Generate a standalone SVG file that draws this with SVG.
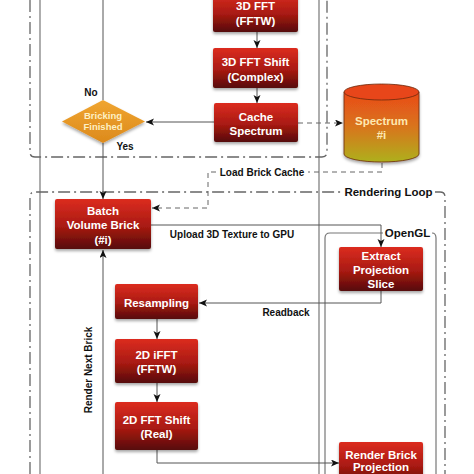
<svg xmlns="http://www.w3.org/2000/svg" width="474" height="474" viewBox="0 0 474 474">
<style>
.box{fill:url(#red);filter:url(#sh)}
.bt{font-family:"Liberation Sans",Arial,sans-serif;font-weight:bold;font-size:11.5px;fill:#fff;text-anchor:middle}
.lbl{font-family:"Liberation Sans",Arial,sans-serif;font-weight:bold;font-size:10px;fill:#111;text-anchor:middle}
.big{font-family:"Liberation Sans",Arial,sans-serif;font-weight:bold;font-size:11.5px;fill:#111;text-anchor:middle}
.c{fill:none;stroke:#555;stroke-width:1}
.d{fill:none;stroke:#666;stroke-width:1;stroke-dasharray:5 4}
.dd{fill:none;stroke:#666;stroke-width:1.3;stroke-dasharray:12 4 2 4}
.g{fill:none;stroke:#777;stroke-width:1.2}
</style>
<defs>
<linearGradient id="red" x1="0" y1="0" x2="0" y2="1">
<stop offset="0" stop-color="#dc2c20"/>
<stop offset="0.55" stop-color="#a81a12"/>
<stop offset="1" stop-color="#560a07"/>
</linearGradient>
<linearGradient id="cyl" x1="0" y1="0" x2="0" y2="1">
<stop offset="0" stop-color="#ea4a18"/>
<stop offset="0.5" stop-color="#d8751c"/>
<stop offset="1" stop-color="#aeb01e"/>
</linearGradient>
<linearGradient id="dia" x1="0" y1="0" x2="0" y2="1">
<stop offset="0" stop-color="#f0a530"/>
<stop offset="1" stop-color="#dc8a1c"/>
</linearGradient>
<filter id="sh" x="-20%" y="-20%" width="140%" height="150%">
<feDropShadow dx="0" dy="2" stdDeviation="1.5" flood-color="#000" flood-opacity="0.35"/>
</filter>
<marker id="ah" markerUnits="userSpaceOnUse" markerWidth="9" markerHeight="8" refX="8" refY="3.5" orient="auto">
<path d="M0,0 L8,3.5 L0,7 L2,3.5 z" fill="#111"/>
</marker>
</defs>
<rect width="474" height="474" fill="#fff"/>

<g id="frames">
<line x1="40" y1="0" x2="40" y2="474" class="g"/>
<line x1="319" y1="0" x2="319" y2="474" class="g"/>
<path class="dd" d="M30,0 L30,152 Q30,157 35,157 L322,157 Q327,157 327,152 L327,0"/>
<path class="dd" d="M30,474 L30,197 Q30,192 35,192 L342,192 M435,192 L440,192 Q445,192 445,197 L445,474"/>
<text class="big" x="388.5" y="196">Rendering Loop</text>
<path class="g" d="M325,474 L325,238 Q325,233 330,233 L383,233 M432,233 Q436,233 436,238 L436,474" stroke="#555"/>
<text class="big" x="407.5" y="237">OpenGL</text>
</g>

<g id="connectors">
<line class="c" x1="257" y1="32" x2="257" y2="48" marker-end="url(#ah)"/>
<line class="c" x1="257" y1="88" x2="257" y2="103" marker-end="url(#ah)"/>
<line class="c" x1="214" y1="122" x2="146" y2="122" marker-end="url(#ah)"/>
<line class="c" x1="103" y1="0" x2="103" y2="100"/>
<line class="c" x1="103" y1="143" x2="103" y2="199" marker-end="url(#ah)"/>
<path class="d" d="M298,123 L343,123" marker-end="url(#ah)"/>
<path class="d" d="M382,163 L382,172 L308,172"/>
<path class="d" d="M216,172 L208,172 L208,208 L152,208" marker-end="url(#ah)"/>
<path class="c" d="M151,225 L381,225 L381,247" marker-end="url(#ah)"/>
<path class="c" d="M381,291 L381,303 L199,303" marker-end="url(#ah)"/>
<line class="c" x1="157" y1="319" x2="157" y2="339" marker-end="url(#ah)"/>
<line class="c" x1="157" y1="383" x2="157" y2="402" marker-end="url(#ah)"/>
<path class="c" d="M157,450 L157,463 L339,463" marker-end="url(#ah)"/>
<line class="c" x1="103" y1="474" x2="103" y2="250" marker-end="url(#ah)"/>
<text class="lbl" x="91" y="96">No</text>
<text class="lbl" x="125" y="150">Yes</text>
<text class="lbl" x="262" y="176">Load Brick Cache</text>
<text class="lbl" x="232" y="238">Upload 3D Texture to GPU</text>
<text class="lbl" x="286" y="316">Readback</text>
<text class="lbl" transform="translate(92,370) rotate(-90)">Render Next Brick</text>
</g>

<g id="fft3d">
<rect class="box" x="213" y="-8" width="85" height="40" rx="2"/>
<text class="bt" x="255.5" y="10">3D FFT</text>
<text class="bt" x="255.5" y="25">(FFTW)</text>
</g>
<g id="fftshift3d">
<rect class="box" x="213" y="48" width="85" height="40" rx="2"/>
<text class="bt" x="255.5" y="66">3D FFT Shift</text>
<text class="bt" x="255.5" y="81">(Complex)</text>
</g>
<g id="cache">
<rect class="box" x="214" y="103" width="84" height="39" rx="2"/>
<text class="bt" x="256" y="121">Cache</text>
<text class="bt" x="256" y="135">Spectrum</text>
</g>
<g id="bricking">
<polygon points="103,100 145,121.5 103,143 62,121.5" fill="url(#dia)" filter="url(#sh)"/>
<text class="bt" x="103" y="119" style="font-size:9.5px;fill:#fdf0c4">Bricking</text>
<text class="bt" x="103" y="130" style="font-size:9.5px;fill:#fdf0c4">Finished</text>
</g>
<g id="spectrum">
<path d="M344,92 L344,154 A37.5,8 0 0 0 419,154 L419,92 Z" fill="url(#cyl)" stroke="#6a2a0c" stroke-width="0.8" filter="url(#sh)"/>
<ellipse cx="381.5" cy="92" rx="37.5" ry="8" fill="#e8461a" stroke="#6a2a0c" stroke-width="0.8"/>
<text class="bt" x="381.5" y="125" style="fill:#fde8b0">Spectrum</text>
<text class="bt" x="381.5" y="139" style="fill:#fde8b0">#i</text>
</g>
<g id="batch">
<rect class="box" x="55" y="199" width="96" height="50" rx="2"/>
<text class="bt" x="103" y="215">Batch</text>
<text class="bt" x="103" y="229">Volume Brick</text>
<text class="bt" x="103" y="244">(#i)</text>
</g>
<g id="extract">
<rect class="box" x="339" y="247" width="84" height="44" rx="2"/>
<text class="bt" x="381" y="260">Extract</text>
<text class="bt" x="381" y="274">Projection</text>
<text class="bt" x="381" y="288">Slice</text>
</g>
<g id="resampling">
<rect class="box" x="115" y="284" width="83" height="35" rx="2"/>
<text class="bt" x="156.5" y="307">Resampling</text>
</g>
<g id="ifft2d">
<rect class="box" x="115" y="339" width="83" height="44" rx="2"/>
<text class="bt" x="156.5" y="359">2D iFFT</text>
<text class="bt" x="156.5" y="373">(FFTW)</text>
</g>
<g id="fftshift2d">
<rect class="box" x="115" y="402" width="83" height="48" rx="2"/>
<text class="bt" x="156.5" y="424">2D FFT Shift</text>
<text class="bt" x="156.5" y="438">(Real)</text>
</g>
<g id="renderbrick">
<rect class="box" x="339" y="442" width="84" height="44" rx="2"/>
<text class="bt" x="381" y="459">Render Brick</text>
<text class="bt" x="381" y="470.5">Projection</text>
</g>
</svg>
